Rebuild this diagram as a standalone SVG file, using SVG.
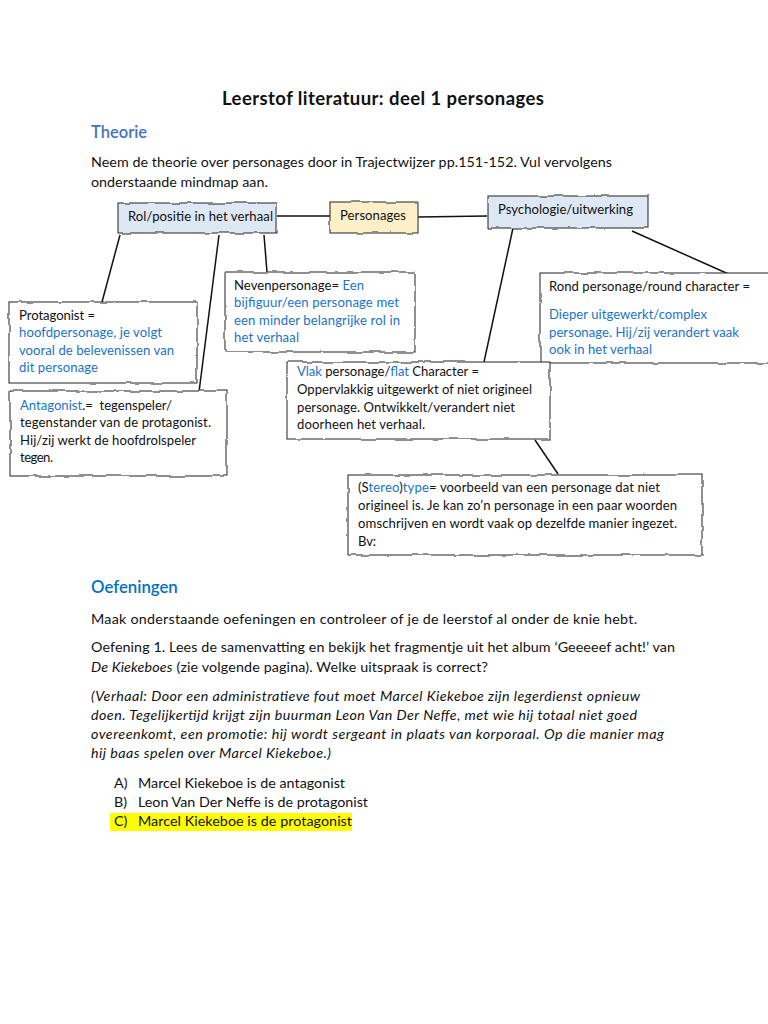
<svg xmlns="http://www.w3.org/2000/svg" width="768" height="1024" viewBox="0 0 768 1024">
<style>
text{font-family:Lato,"Liberation Sans",sans-serif;fill:#111}
.b{font-size:14.3px}
.n{font-size:13.1px}
.blue{fill:#1a73c8}
.box{fill:#fff;stroke:#333;stroke-width:1.1;filter:url(#rough)}
.con{stroke:#111;stroke-width:1.5;fill:none}
</style>
<defs>
<filter id="rough" x="-5%" y="-10%" width="110%" height="120%">
<feTurbulence type="fractalNoise" baseFrequency="0.06" numOctaves="2" seed="3"/>
<feDisplacementMap in="SourceGraphic" scale="3.5" xChannelSelector="R" yChannelSelector="G"/>
</filter>
</defs>
<rect width="768" height="1024" fill="#fff"/>
<text x="222" y="105" textLength="322" style="font-size:18.5px;font-weight:bold">Leerstof literatuur: deel 1 personages</text>
<text x="91" y="138" style="font-size:16.5px;fill:#4472c4;font-weight:600">Theorie</text>
<text class="b" x="91" y="167" textLength="521">Neem de theorie over personages door in Trajectwijzer pp.151-152. Vul vervolgens</text>
<text class="b" x="91" y="187">onderstaande mindmap aan.</text>

<g id="connectors">
<line class="con" x1="277" y1="216" x2="330" y2="216"/>
<line class="con" x1="418" y1="217" x2="487" y2="216"/>
<line class="con" x1="120" y1="235" x2="102" y2="302"/>
<line class="con" x1="219" y1="235" x2="199" y2="392"/>
<line class="con" x1="264" y1="235" x2="267" y2="272"/>
<line class="con" x1="513" y1="228" x2="484" y2="362"/>
<line class="con" x1="632" y1="231" x2="733" y2="276"/>
<line class="con" x1="535" y1="440" x2="558" y2="474"/>
</g>

<g id="rol">
<rect class="box" x="118" y="203" width="159" height="30" style="fill:#dde8f4"/>
<text class="n" x="128" y="221" textLength="145">Rol/positie in het verhaal</text>
</g>
<g id="personages">
<rect class="box" x="330" y="202" width="88" height="31" style="fill:#fdf0c8"/>
<text class="n" x="340" y="220" textLength="66">Personages</text>
</g>
<g id="psychologie">
<rect class="box" x="488" y="196" width="160" height="32" style="fill:#dde8f4"/>
<text class="n" x="498" y="214" textLength="135">Psychologie/uitwerking</text>
</g>

<g id="protagonist">
<rect class="box" x="9" y="302" width="188" height="81"/>
<text class="n" x="19" y="320" textLength="76">Protagonist =</text>
<text class="n blue" x="19" y="337" textLength="143">hoofdpersonage, je volgt</text>
<text class="n blue" x="19" y="355" textLength="155">vooral de belevenissen van</text>
<text class="n blue" x="19" y="372" textLength="79">dit personage</text>
</g>
<g id="nevenpersonage">
<rect class="box" x="225" y="272" width="190" height="80"/>
<text class="n" x="234" y="290" textLength="130">Nevenpersonage= <tspan class="blue">Een</tspan></text>
<text class="n blue" x="234" y="307" textLength="165">bijfiguur/een personage met</text>
<text class="n blue" x="234" y="325" textLength="166">een minder belangrijke rol in</text>
<text class="n blue" x="234" y="342" textLength="65">het verhaal</text>
</g>
<g id="rond">
<rect class="box" x="540" y="273" width="232" height="90"/>
<text class="n" x="549" y="291" textLength="201">Rond personage/round character =</text>
<text class="n blue" x="549" y="319" textLength="158">Dieper uitgewerkt/complex</text>
<text class="n blue" x="549" y="337" textLength="190">personage. Hij/zij verandert vaak</text>
<text class="n blue" x="549" y="354" textLength="103">ook in het verhaal</text>
</g>
<g id="antagonist">
<rect class="box" x="10" y="391" width="217" height="85"/>
<text class="n" x="20" y="410" textLength="152" xml:space="preserve"><tspan class="blue">Antagonist</tspan>.=  tegenspeler/</text>
<text class="n" x="20" y="427" textLength="191">tegenstander van de protagonist.</text>
<text class="n" x="20" y="445" textLength="176">Hij/zij werkt de hoofdrolspeler</text>
<text class="n" x="20" y="462" textLength="33">tegen.</text>
</g>
<g id="vlak">
<rect class="box" x="287" y="362" width="263" height="77"/>
<text class="n" x="297" y="376" textLength="182"><tspan class="blue">Vlak</tspan> personage/<tspan class="blue">flat</tspan> Character =</text>
<text class="n" x="297" y="394" textLength="235">Oppervlakkig uitgewerkt of niet origineel</text>
<text class="n" x="297" y="412" textLength="218">personage. Ontwikkelt/verandert niet</text>
<text class="n" x="297" y="429" textLength="128">doorheen het verhaal.</text>
</g>
<g id="stereotype">
<rect class="box" x="348" y="475" width="354" height="80"/>
<text class="n" x="358" y="492" textLength="302">(S<tspan class="blue">tereo</tspan>)<tspan class="blue">type</tspan>= voorbeeld van een personage dat niet</text>
<text class="n" x="358" y="510" textLength="319">origineel is. Je kan zo’n personage in een paar woorden</text>
<text class="n" x="358" y="528" textLength="319">omschrijven en wordt vaak op dezelfde manier ingezet.</text>
<text class="n" x="358" y="546" textLength="18">Bv:</text>
</g>

<text x="91" y="593" style="font-size:16.8px;fill:#0070c0;font-weight:600">Oefeningen</text>
<text class="b" x="91" y="624" textLength="546">Maak onderstaande oefeningen en controleer of je de leerstof al onder de knie hebt.</text>
<text class="b" x="91" y="652" textLength="584">Oefening 1. Lees de samenvatting en bekijk het fragmentje uit het album ‘Geeeeef acht!’ van</text>
<text class="b" x="91" y="672" textLength="397"><tspan font-style="italic">De Kiekeboes</tspan> (zie volgende pagina). Welke uitspraak is correct?</text>
<g font-style="italic">
<text class="b" x="91" y="701" textLength="549">(Verhaal: Door een administratieve fout moet Marcel Kiekeboe zijn legerdienst opnieuw</text>
<text class="b" x="91" y="720" textLength="546">doen. Tegelijkertijd krijgt zijn buurman Leon Van Der Neffe, met wie hij totaal niet goed</text>
<text class="b" x="91" y="739" textLength="573">overeenkomt, een promotie: hij wordt sergeant in plaats van korporaal. Op die manier mag</text>
<text class="b" x="91" y="758" textLength="240">hij baas spelen over Marcel Kiekeboe.)</text>
</g>
<rect x="110" y="813" width="242" height="18" fill="#ffff00"/>
<text class="b" x="114" y="788">A)</text>
<text class="b" x="138" y="788" textLength="207">Marcel Kiekeboe is de antagonist</text>
<text class="b" x="114" y="807">B)</text>
<text class="b" x="138" y="807" textLength="230">Leon Van Der Neffe is de protagonist</text>
<text class="b" x="114" y="826">C)</text>
<text class="b" x="138" y="826" textLength="214">Marcel Kiekeboe is de protagonist</text>
</svg>
